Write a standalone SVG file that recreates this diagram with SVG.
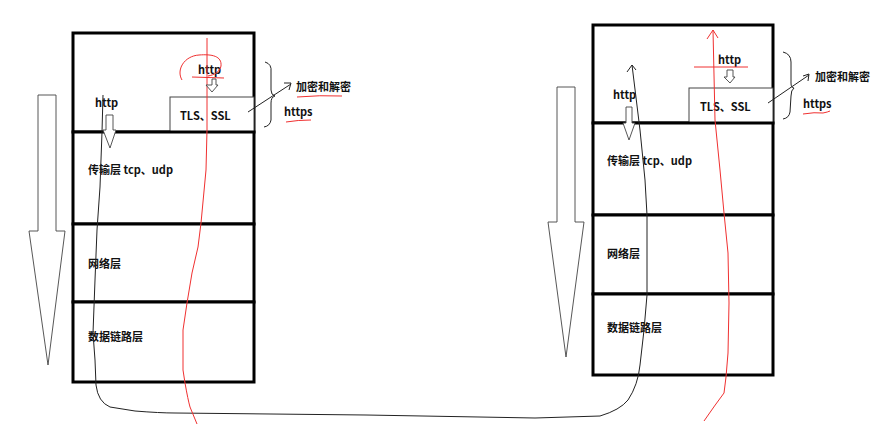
<svg xmlns="http://www.w3.org/2000/svg" width="873" height="425" viewBox="0 0 873 425">
<style>
.layer{fill:#fff;stroke:#000;stroke-width:3}
.tls{fill:#fff;stroke:#444;stroke-width:1}
.t{font-family:"Noto Sans CJK SC","Noto Sans",sans-serif;font-size:11px;font-weight:bold;fill:#111}
.thin{fill:none;stroke:#222;stroke-width:1}
.hollow{fill:#fff;stroke:#444;stroke-width:0.9}
.red{fill:none;stroke:#f03030;stroke-width:1}
</style>
<rect width="873" height="425" fill="#fff"/>

<g id="big-arrow-left"><path class="hollow" d="M38 95 H56 V231 H65 L48 365 L29 231 H38 Z"/></g>
<g id="big-arrow-right"><path class="hollow" d="M557 87 H575 V222 H584 L566 357 L548 222 H557 Z"/></g>

<g id="left-app"><rect class="layer" x="73" y="33" width="181" height="99"/>
<text class="t" x="95" y="107">http</text><text class="t" x="198" y="74">http</text></g>
<g id="left-tls"><rect class="tls" x="170" y="97" width="84" height="35"/><text class="t" x="180" y="120">TLS、SSL</text></g>
<g id="left-transport"><rect class="layer" x="73" y="132" width="181" height="92"/><text class="t" x="88" y="174">传输层 tcp、udp</text></g>
<g id="left-network"><rect class="layer" x="73" y="224" width="181" height="78"/><text class="t" x="88" y="268">网络层</text></g>
<g id="left-link"><rect class="layer" x="73" y="302" width="181" height="80"/><text class="t" x="88" y="341">数据链路层</text></g>
<g id="left-notes"><text class="t" x="296" y="91">加密和解密</text><text class="t" x="284" y="116">https</text></g>

<g id="right-app"><rect class="layer" x="593" y="25" width="180" height="98"/>
<text class="t" x="613" y="99">http</text><text class="t" x="718" y="64">http</text></g>
<g id="right-tls"><rect class="tls" x="689" y="88" width="84" height="35"/><text class="t" x="700" y="111">TLS、SSL</text></g>
<g id="right-transport"><rect class="layer" x="593" y="123" width="180" height="92"/><text class="t" x="607" y="165">传输层 tcp、udp</text></g>
<g id="right-network"><rect class="layer" x="593" y="215" width="180" height="79"/><text class="t" x="607" y="258">网络层</text></g>
<g id="right-link"><rect class="layer" x="593" y="294" width="180" height="81"/><text class="t" x="607" y="332">数据链路层</text></g>
<g id="right-notes"><text class="t" x="815" y="81">加密和解密</text><text class="t" x="803" y="108">https</text></g>

<g id="connectors">
<path class="thin" d="M103 95 L102 132 L100 187 L97 230 L95 280 L93 333 L95 360 L96 385 Q98 402 110 407 L135 411 Q160 413 175 413 L366 415 L535 418 L600 416 Q620 410 628 400 Q638 385 640 365 L644 330 L647 295 L647 215 L645 180 L640 130 L632 65"/>
<path class="thin" d="M627 72 L632 65 L636 70"/>
<path class="red" d="M207 38 L207 130 L206 170 L201 223 L198 247 L192 273 L187 303 L183 330 L183 370 L185 383 Q188 400 190 407 L197 424"/>
<path class="red" d="M713 30 L715 120 L720 170 L724 213 L728 253 L729 303 L728 353 L726 377 L724 393 Q715 405 704 421"/>
<path class="red" d="M707 39 L713 30 L718 38"/>
<path class="red" d="M182 80 C176 70 184 56 199 55 C212 54 222 56 221 66 C220 72 214 75 208 76"/>
<path class="red" d="M192 77 L224 78"/>
<path class="red" d="M297 97 Q320 95 342 96"/>
<path class="red" d="M286 122 Q298 120 311 120"/>
<path class="red" d="M694 67 H748"/>
<path class="red" d="M803 114 Q815 112 823 113 Q828 112 830 111"/>
<path class="hollow" d="M212 79 H216 V85 H218 L212 92 L206 85 H212 Z"/>
<path class="hollow" d="M106 115 H113 V130 H116 L110 148 L103 130 H106 Z"/>
<path class="hollow" d="M727 70 H733 V77 H735 L730 83 L724 77 H727 Z"/>
<path class="hollow" d="M626 107 H632 V123 H635 L629 140 L623 123 H626 Z"/>
<path class="thin" d="M248 112 L291 84 M284 83 L291 83 L289 90"/>
<path class="thin" d="M768 103 L809 75 M803 76 L809 74 L808 81"/>
<path class="thin" d="M265 62 Q272 64 271 72 L271 90 Q271 95 275 96 Q271 97 271 103 L271 120 Q270 126 264 127"/>
<path class="thin" d="M783 52 Q791 54 791 62 L791 83 Q791 88 794 88 Q791 90 791 96 L790 112 Q789 118 783 119"/>
</g>
</svg>
